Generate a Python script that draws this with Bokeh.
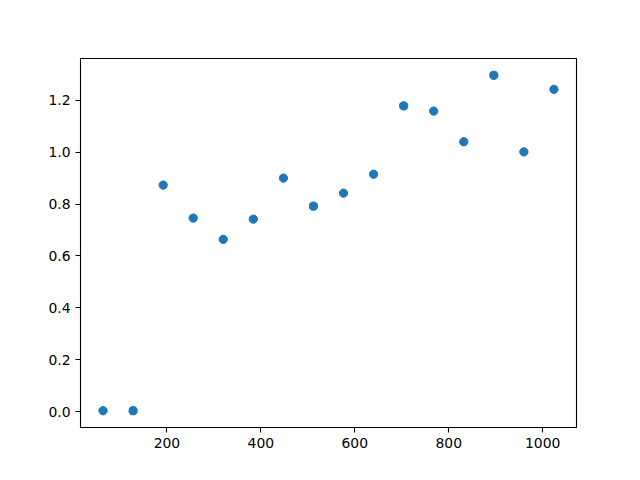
from bokeh.plotting import figure
from bokeh.models import Range1d, FixedTicker, PrintfTickFormatter
from bokeh.embed import file_html
from bokeh.resources import INLINE

x_vals = [64, 128, 192, 256, 320, 384, 448, 512, 576, 640, 704, 768, 832, 896, 960, 1024]
y_vals = [0.004, 0.004, 0.873, 0.746, 0.664, 0.742, 0.900, 0.792, 0.842, 0.915,
          1.178, 1.158, 1.040, 1.296, 1.001, 1.242]
x_ticks = [200, 400, 600, 800, 1000]
y_ticks = [0.0, 0.2, 0.4, 0.6, 0.8, 1.0, 1.2]

def padded(vals, frac=0.05):
    lo, hi = min(vals), max(vals)
    d = (hi - lo) * frac
    return lo - d, hi + d

xlo, xhi = padded(x_vals)
ylo, yhi = padded(y_vals)

p = figure(frame_width=496, frame_height=369, output_backend="svg", toolbar_location=None,
           x_range=Range1d(xlo, xhi), y_range=Range1d(ylo, yhi))
p.min_border_left = 80
p.min_border_right = 48
p.min_border_top = 58
p.min_border_bottom = 37
p.background_fill_color = "white"
p.border_fill_color = "white"
p.outline_line_color = "black"
p.outline_line_width = 1.1
p.grid.visible = False

p.scatter(x_vals, y_vals, size=8.3, color="#1f77b4", line_color="#1f77b4")

for ax in (p.xaxis[0], p.yaxis[0]):
    ax.axis_line_color = None
    ax.major_tick_in = 0
    ax.major_tick_out = 5
    ax.minor_tick_line_color = None
    ax.major_tick_line_color = "black"
    ax.major_tick_line_width = 1.1
    ax.major_label_text_font = "DejaVu Sans"
    ax.major_label_text_font_size = "13.9px"
    ax.major_label_text_color = "black"
    ax.major_label_standoff = 5

p.xaxis[0].ticker = FixedTicker(ticks=x_ticks)
p.yaxis[0].ticker = FixedTicker(ticks=y_ticks)
p.yaxis[0].formatter = PrintfTickFormatter(format="%.1f")

open("out.html", "w").write(file_html(p, INLINE))
